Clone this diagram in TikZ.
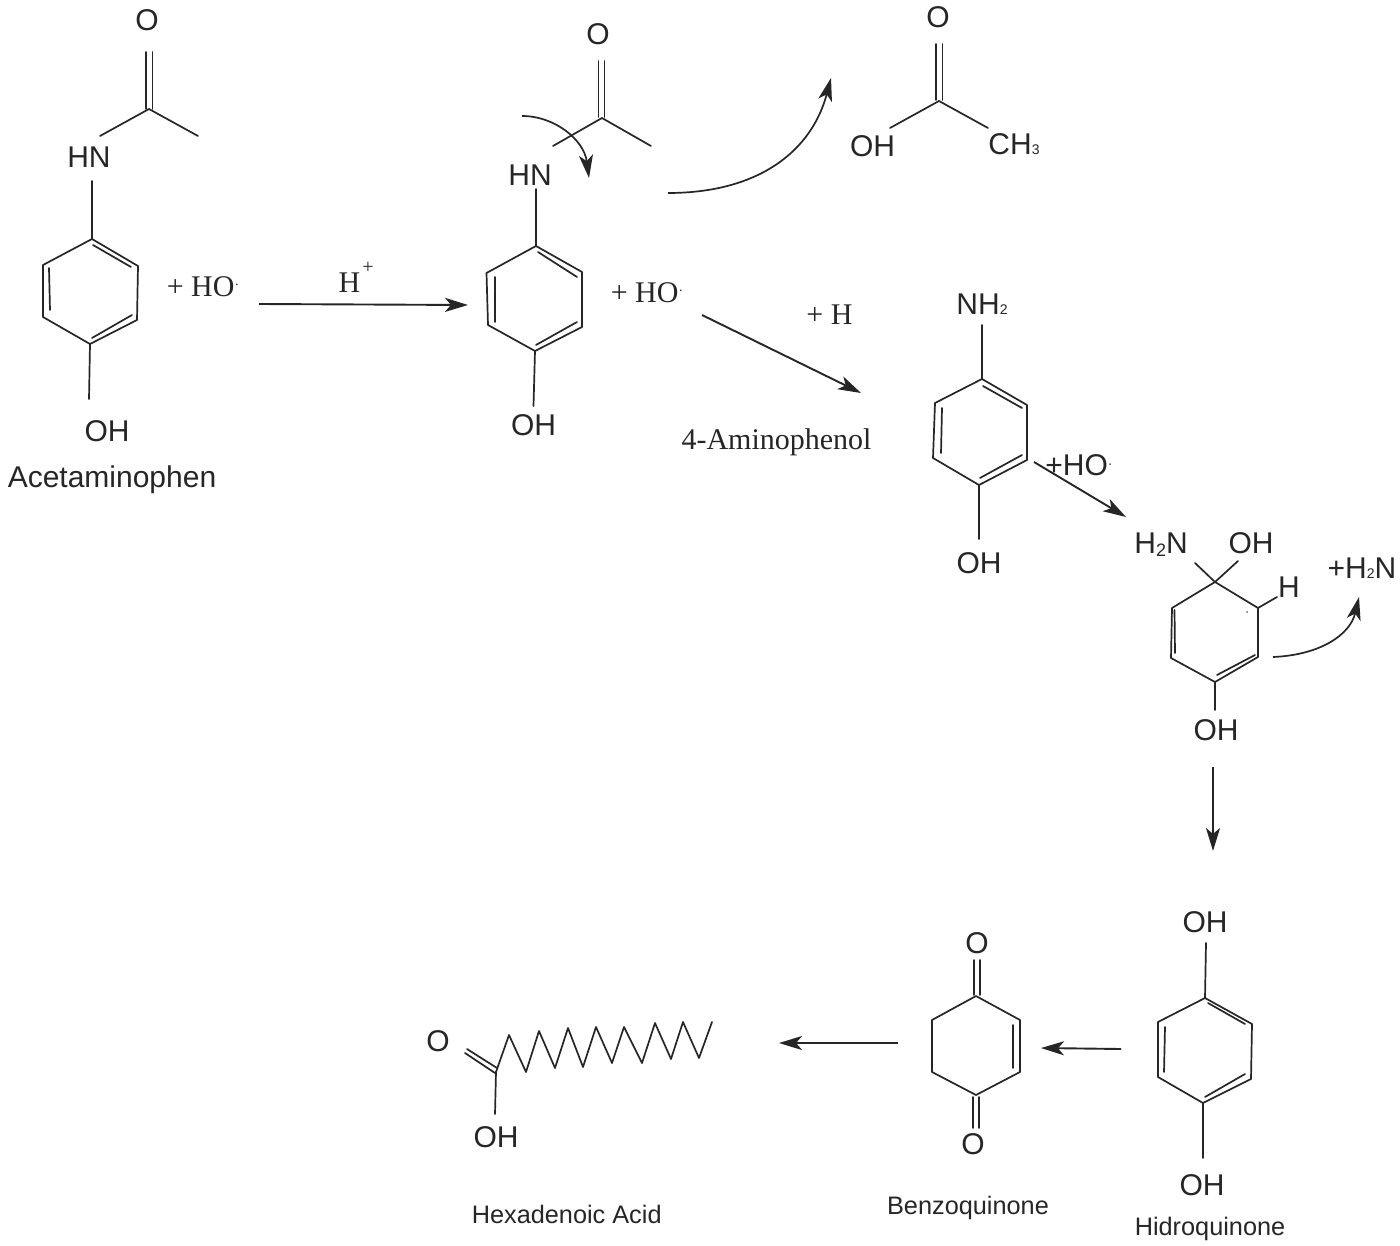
\documentclass[tikz,border=0pt]{standalone}
\usepackage{fontspec}
\setmainfont{Liberation Serif}
\setsansfont{Liberation Sans}
\usetikzlibrary{arrows.meta}
\definecolor{ink}{HTML}{262626}
\newcommand{\smalltxt}[1]{{\fontsize{14}{14}\selectfont #1}}
\newcommand{\subtxt}[1]{\raisebox{-3pt}{\fontsize{18}{18}\selectfont #1}}
\newcommand{\raddot}{\raisebox{7pt}{\smalltxt{·}}}
\tikzset{
  bond/.style={draw=ink,line width=1.7pt,line cap=round},
  rxn/.style={draw=ink,line width=1.9pt,-{Stealth[length=23pt,width=14pt,inset=6pt]}},
  curved/.style={rxn,line width=1.7pt},
  atom/.style={inner sep=0pt,anchor=base,text=ink,font=\sffamily\fontsize{30}{30}\selectfont},
  captext/.style={inner sep=0pt,anchor=base,text=ink,font=\sffamily\fontsize{25.3}{26}\selectfont},
  serif/.style={inner sep=0pt,anchor=base,text=ink,font=\rmfamily\fontsize{30}{30}\selectfont}
}
% ring: names and draws six atoms, clockwise from the top
\newcommand{\Ring}[7]{%
  \coordinate (#1a) at #2; \coordinate (#1b) at #3; \coordinate (#1c) at #4;
  \coordinate (#1d) at #5; \coordinate (#1e) at #6; \coordinate (#1f) at #7;
  \draw[bond,line join=round] (#1a)--(#1b)--(#1c)--(#1d)--(#1e)--(#1f)--cycle;}
\begin{document}
\begin{tikzpicture}[x=1pt,y=-1pt]
\useasboundingbox (0,0) rectangle (1400,1246);
\fill[white] (0,0) rectangle (1400,1246);

% Acetaminophen
\Ring{p}{(92,239)}{(138,266)}{(137,320)}{(90,344)}{(43,317)}{(43,265)}
\draw[bond] (93,245)--(131,267) (92,338)--(132,315) (49,268)--(50,310);
\node[atom] (pO) at (147,31) {O};
\node[atom] (pHN) at (89,168) {HN};
\node[atom] (pOH) at (107,441) {OH};
\node[atom] (pname) at (112,487) {Acetaminophen};
\coordinate (pC) at (149,109);
\draw[bond] (146,52)--(146,109) (152.5,52)--(152.5,109);
\draw[bond] (100,136)--(pC)--(198,136);
\draw[bond] (92,181)--(pa) (pd)--(89,399);
\node[serif] (plus1) at (203,297) {+ HO\raddot};
\node[serif] (hplus) at (349.5,293) {H};
\node[serif,font=\rmfamily\fontsize{20}{20}\selectfont] (hplussup) at (368,274) {+};
\coordinate (a1s) at (259,304); \coordinate (a1e) at (468,305);
\draw[rxn] (a1s)--(a1e);

% N-acetyl intermediate
\Ring{q}{(536,246)}{(582,272)}{(582,327)}{(535,351)}{(488,325)}{(486.5,273)}
\draw[bond] (538,252)--(577,277) (536,345)--(577,322) (495,277)--(495,322);
\node[atom] (qO) at (598,45) {O};
\node[atom] (qHN) at (530,186) {HN};
\node[atom] (qOH) at (533.5,435) {OH};
\coordinate (qC) at (602,118);
\draw[bond] (598.5,61)--(598.5,117) (604.5,61)--(604.5,117);
\draw[bond] (553,146)--(qC)--(651,146);
\draw[bond] (536,189)--(qa) (qd)--(533.5,406);
\node[serif] (plus2) at (647,303) {+ HO\raddot};
\coordinate (c1s) at (522,116); \coordinate (c1e) at (589,178);
\draw[curved] (c1s) .. controls (555,116) and (584,140) .. (c1e);
\coordinate (c2s) at (668,193); \coordinate (c2e) at (831,78);
\draw[curved] (c2s) .. controls (760,193) and (812,150) .. (c2e);

% Acetic acid
\node[atom] (aO) at (938,28) {O};
\coordinate (aC) at (939,101);
\draw[bond] (936,44)--(936,100) (942.5,44)--(942.5,100);
\draw[bond] (890,128)--(aC)--(988,128);
\node[atom] (aOH) at (872.5,157) {OH};
\node[atom] (aCH) at (1014,155) {CH\smalltxt{3}};

% Arrow to 4-aminophenol
\coordinate (a2s) at (702,315); \coordinate (a2e) at (861,393);
\draw[rxn] (a2s)--(a2e);
\node[serif] (plusH) at (829.5,325) {+ H};
\node[serif] (amname) at (776.5,449) {4-Aminophenol};

% 4-Aminophenol
\Ring{r}{(982,379)}{(1027,405)}{(1027,460)}{(979,485)}{(933,458)}{(935,403)}
\draw[bond] (983,386)--(1022,408) (980,478)--(1022,455) (942,408)--(941,453);
\node[atom] (rNH) at (982,315) {NH\smalltxt{2}};
\node[atom] (rOH) at (979,573) {OH};
\draw[bond] (982,325)--(ra) (rd)--(979,539);
\coordinate (a3s) at (1034,462); \coordinate (a3e) at (1126,517);
\draw[rxn] (a3s)--(a3e);
\node[atom] (plus3) at (1079,475) {+HO\raddot};

% Aminodiol
\Ring{s}{(1215,582)}{(1258,608)}{(1258,657)}{(1215,682)}{(1171,658)}{(1172,608)}
\draw[bond] (1174.5,610)--(1175,653) (1217,675)--(1255,655);
\node[atom] (sNH) at (1161,553) {H\subtxt{2}N};
\node[atom] (sOH) at (1251,553) {OH};
\node[atom] (sH) at (1289,597) {H};
\node[atom] (sOHb) at (1216,740) {OH};
\draw[bond] (1195,563)--(sa)--(1238,561);
\draw[bond] (sb)--(1277,597);
\draw[bond] (sd)--(1215,710);
\fill[ink!70] (1247,612) circle (1pt);
\node[atom] (plus4) at (1362,578) {+H\smalltxt{2}N};
\coordinate (c3s) at (1273,657); \coordinate (c3e) at (1359,597);
\draw[curved] (c3s) .. controls (1320,655) and (1350,635) .. (c3e);
\coordinate (a4s) at (1213,767); \coordinate (a4e) at (1213,851);
\draw[rxn] (a4s)--(a4e);

% Hidroquinone
\Ring{h}{(1205,998)}{(1252,1024)}{(1251,1079)}{(1203,1103)}{(1158,1077)}{(1158,1022)}
\draw[bond] (1208,1003)--(1245,1024) (1205,1097)--(1245,1074) (1165,1027)--(1164,1072);
\node[atom] (hOHa) at (1205,932) {OH};
\node[atom] (hOHb) at (1202,1195) {OH};
\node[captext] (hname) at (1210,1235) {Hidroquinone};
\draw[bond] (1206,943)--(ha) (hd)--(1203,1158);
\coordinate (a5s) at (1121,1049); \coordinate (a5e) at (1041,1048);
\draw[rxn] (a5s)--(a5e);

% Benzoquinone
\Ring{b}{(976,996)}{(1020,1020)}{(1020,1072)}{(976,1095)}{(932,1072)}{(932,1020)}
\draw[bond] (1013,1025)--(1013,1068);
\draw[bond] (974,960)--(974,995) (980,960)--(980,995);
\draw[bond] (973,1097)--(973,1128) (979,1097)--(979,1128);
\node[atom] (bOa) at (977,953) {O};
\node[atom] (bOb) at (973,1154) {O};
\node[captext] (bname) at (968,1214) {Benzoquinone};
\coordinate (a6s) at (898,1043); \coordinate (a6e) at (779,1043);
\draw[rxn] (a6s)--(a6e);

% Hexadecanoic chain
\coordinate (fC) at (496,1072);
\draw[bond,line join=round] (fC)--(509,1035)--(526,1072)--(539,1031)--(555,1068)--(568,1028)--(583,1067)--(596,1027)--(612,1063)--(624,1027)--(642,1063)--(655,1023)--(671,1059)--(683,1022)--(699,1058)--(712,1022);
\draw[bond] (465,1053)--(495,1073) (467,1049)--(497,1068);
\draw[bond] (fC)--(495,1114);
\node[atom] (fO) at (438,1051) {O};
\node[atom] (fOH) at (496,1147) {OH};
\node[captext] (fname) at (566.7,1223) {Hexadenoic Acid};
\end{tikzpicture}
\end{document}
